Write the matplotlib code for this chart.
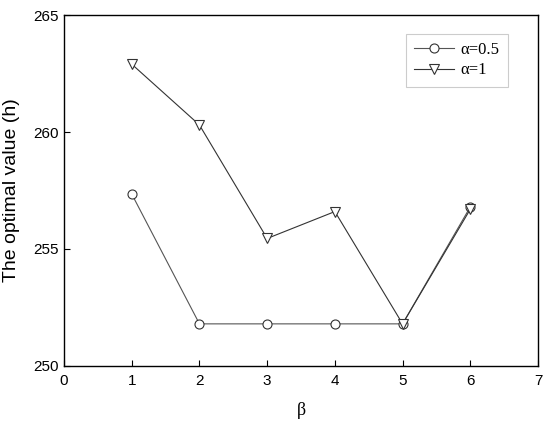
import matplotlib
matplotlib.use("Agg")
import matplotlib.pyplot as plt

beta = [1, 2, 3, 4, 5, 6]
alpha_05 = [257.35, 251.8, 251.8, 251.8, 251.8, 256.8]
alpha_1 = [262.9, 260.3, 255.45, 256.6, 251.8, 256.7]

plt.rcParams['font.family'] = ['Liberation Sans', 'DejaVu Sans']

fig = plt.figure(figsize=(5.5, 4.23), dpi=100)
ax = fig.add_axes([0.1164, 0.1348, 0.8618, 0.8297])

ax.plot(beta, alpha_05, color='#555555', lw=0.8, marker='o', ms=6.5,
        mfc='white', mec='#333333', mew=0.8, label='α=0.5')
ax.plot(beta, alpha_1, color='#333333', lw=0.8, marker='v', ms=7,
        mfc='white', mec='#333333', mew=0.8, label='α=1')

ax.set_xlim(0, 7)
ax.set_ylim(250, 265)
ax.set_xticks(range(0, 8))
ax.set_yticks([250, 255, 260, 265])
ax.tick_params(direction='in', length=4, labelsize=11, top=False, right=False)
ax.tick_params(axis='x', pad=6)
for s in ax.spines.values():
    s.set_linewidth(1.0)

ax.set_xlabel('β', fontsize=13, family=['Liberation Serif'], labelpad=10)
ax.set_ylabel('The optimal value (h)', fontsize=14, labelpad=10)

leg = ax.legend(loc='upper right', bbox_to_anchor=(0.937, 0.946), borderaxespad=0,
                fancybox=False, edgecolor='#cccccc', framealpha=1, handlelength=2.4,
                labelspacing=0.25, borderpad=0.5, handletextpad=0.4,
                prop={'family': ['Liberation Serif'], 'size': 12})
leg.get_frame().set_linewidth(0.8)

fig.savefig('out.png', dpi=100)
